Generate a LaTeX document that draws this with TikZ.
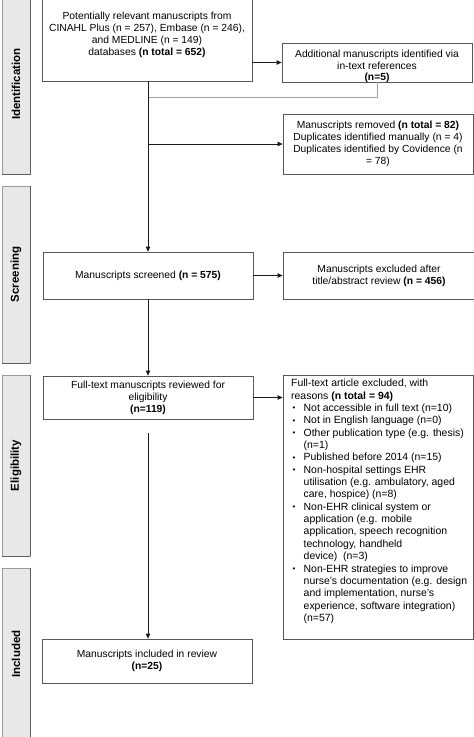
\documentclass[tikz,border=0pt]{standalone}
\usepackage{fontspec}
\setmainfont{Liberation Sans}
\usetikzlibrary{arrows.meta}
\definecolor{boxedge}{HTML}{585858}
\definecolor{sidefill}{HTML}{E8E8E8}
\definecolor{sideedge}{HTML}{9A9A9A}
\definecolor{sidedark}{HTML}{5E5E5E}
\definecolor{linecol}{HTML}{1A1A1A}
\definecolor{greyline}{HTML}{A0A0A0}
\newcommand\bul{\makebox[12.5pt][l]{\hspace{1.5pt}\raisebox{0.6pt}{\scalebox{0.75}{\textbullet}}}}
\newcommand\ind{\hspace*{12.5pt}}
\begin{document}
\begin{tikzpicture}[x=1pt,y=-1pt,
  box/.style={draw=boxedge, line width=0.8pt, fill=white, align=center, inner sep=0pt,
    font=\fontsize{10.3}{12}\selectfont},
  side/.style={draw=sideedge, fill=sidefill, line width=0.6pt, rotate=90, inner sep=0pt,
    minimum height=28pt, font=\fontsize{11.5}{13}\selectfont\bfseries},
  arr/.style={draw=linecol, line width=0.8pt, -{Triangle[length=5pt,width=4.5pt]}},
  gline/.style={draw=greyline, line width=0.8pt}]
\useasboundingbox (0,0) rectangle (474,737);
\clip (0,0) rectangle (474,737);
\fill[white] (0,0) rectangle (474,737);

% side labels
\node[side, minimum width=181pt] (sid) at (16,84) {Identification};
\node[side, minimum width=177pt] (sscr) at (16,274.5) {Screening};
\node[side, minimum width=181pt] (sel) at (16,465.5) {Eligibility};
\node[side, minimum width=172pt] (sinc) at (16,654) {Included};
\foreach \s in {sid,sscr,sel,sinc}{
  \draw[sidedark, line width=1pt] (\s.south west) -- (\s.south east);
  \draw[sidedark, line width=0.8pt] (\s.north west) -- (\s.south west);
}

% boxes
\node[box, minimum width=210pt, minimum height=93pt] (b1) at (147,34.5)
  {Potentially relevant manuscripts from\\ CINAHL Plus (n = 257), Embase (n = 246),\\ and MEDLINE (n = 149)\\ databases \textbf{(n total = 652)}};
\node[box, minimum width=190pt, minimum height=39pt] (b2) at (377,62.5) {};
\node[inner sep=0pt, align=center, font=\fontsize{10.3}{11.2}\selectfont] (b2t) at (377,66.5)
  {Additional manuscripts identified via\\ in-text references\\ \textbf{(n=5)}};
\node[box, minimum width=190pt, minimum height=60pt] (rem) at (378,144)
  {Manuscripts removed \textbf{(n total = 82)}\\ Duplicates identified manually (n = 4)\\ Duplicates identified by Covidence (n\\ = 78)};
\node[box, minimum width=210pt, minimum height=47pt] (scr) at (148,275.5)
  {Manuscripts screened \textbf{(n = 575)}};
\node[box, minimum width=192pt, minimum height=47pt] (exc1) at (379,275.5)
  {Manuscripts excluded after\\ title/abstract review \textbf{(n = 456)}};
\node[box, minimum width=210pt, minimum height=43pt] (ft) at (148,397.5)
  {Full-text manuscripts reviewed for\\ eligibility\\ \textbf{(n=119)}};
\node[box, minimum width=190pt, minimum height=264pt] (exc2) at (378,507) {};
\node[anchor=north west, inner sep=0pt, align=left, font=\fontsize{10.45}{12.35}\selectfont] (exc2t) at (291,379)
  {Full-text article excluded, with\\
   reasons \textbf{(n total = 94)}\\
   \bul Not accessible in full text (n=10)\\
   \bul Not in English language (n=0)\\
   \bul Other publication type (e.g. thesis)\\
   \ind (n=1)\\
   \bul Published before 2014 (n=15)\\
   \bul Non-hospital settings EHR\\
   \ind utilisation (e.g. ambulatory, aged\\
   \ind care, hospice) (n=8)\\
   \bul Non-EHR clinical system or\\
   \ind application (e.g. mobile\\
   \ind application, speech recognition\\
   \ind technology, handheld\\
   \ind device)\ \ (n=3)\\
   \bul Non-EHR strategies to improve\\
   \ind nurse’s documentation (e.g. design\\
   \ind and implementation, nurse’s\\
   \ind experience, software integration)\\
   \ind (n=57)};
\node[box, minimum width=210pt, minimum height=44pt] (inc) at (147,661)
  {Manuscripts included in review\\ \textbf{(n=25)}};

% connectors
\coordinate (j1) at (148,97);
\coordinate (gap) at (148,433);
\draw[arr] (b2.west -| b1.east) -- (b2.west);
\draw[gline] (b2.south) |- (j1);
\draw[arr] (b1.south -| scr.north) -- (scr.north);
\draw[arr] (rem.west -| scr.north) -- (rem.west);
\draw[arr] (scr.east) -- (exc1.west);
\draw[arr] (scr.south) -- (ft.north);
\draw[arr] (ft.east) -- (ft.east -| exc2.west);
\draw[arr] (gap) -- (gap |- inc.north);
\end{tikzpicture}
\end{document}
